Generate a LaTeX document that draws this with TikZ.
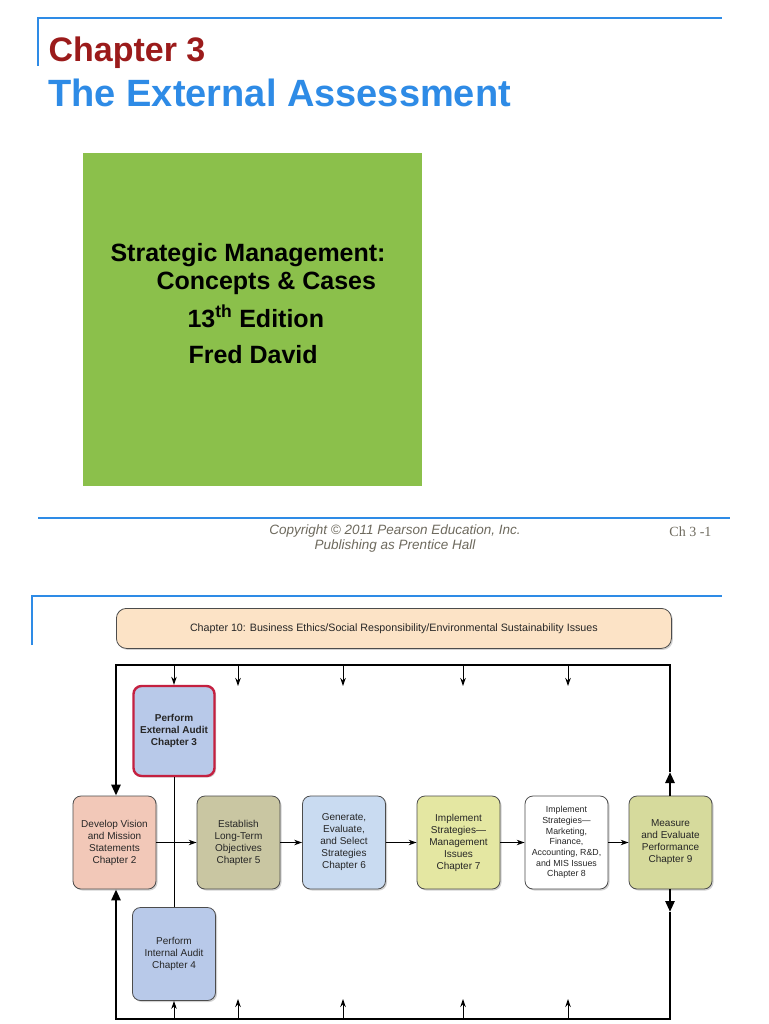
\documentclass[tikz,border=0pt]{standalone}
\usepackage{fontspec}
\setmainfont{Liberation Sans}
\usetikzlibrary{arrows.meta,shadows}
\definecolor{slideblue}{HTML}{2E8BE6}
\definecolor{chred}{HTML}{9B1B1B}
\definecolor{green1}{HTML}{8BC04B}
\definecolor{peach}{HTML}{FCE3C6}
\definecolor{bluebox}{HTML}{B8C9E9}
\definecolor{redborder}{HTML}{C42040}
\definecolor{pinkbox}{HTML}{F2C8B8}
\definecolor{olivebox}{HTML}{C9C6A2}
\definecolor{ltblue}{HTML}{C9DBF1}
\definecolor{yelbox}{HTML}{E4E7A2}
\definecolor{greenbox}{HTML}{D6DA9C}
\definecolor{graytxt}{HTML}{6E6A5E}
\tikzset{
  box/.style={draw=black!70, line width=0.8pt, rounded corners=8pt, minimum width=83pt, minimum height=93pt, align=center, inner sep=1pt, font=\fontsize{10}{12}\selectfont, text=black!85, drop shadow={shadow xshift=1.5pt,shadow yshift=-1.5pt,opacity=0.35}},
  frame/.style={line width=2.6pt, black},
  big/.style={-{Triangle[length=11pt,width=9pt]}, line width=2.6pt},
  small/.style={-{Stealth[length=8pt,width=5.5pt]}, line width=1pt},
  hline/.style={slideblue, line width=1.5pt}
}
\begin{document}
\begin{tikzpicture}[x=1pt,y=-1pt]
\useasboundingbox[fill=white] (0,0) rectangle (768,1024);
% slide 1
\draw[hline] (38,66) -- (38,18) -- (722,18);
\node[anchor=base west, text=chred, font=\bfseries\fontsize{34}{34}\selectfont] (c3) at (45,62) {Chapter 3};
\node[anchor=base west, text=slideblue, font=\bfseries\fontsize{38}{38}\selectfont] (tea) at (45,107) {The External Assessment};
\node[fill=green1, minimum width=339pt, minimum height=333pt, anchor=north west, inner sep=0pt] (gb) at (83,153) {};
\node[anchor=base west, font=\bfseries\fontsize{25}{25}\selectfont] (t1) at (107,261) {Strategic Management:};
\node[anchor=base west, font=\bfseries\fontsize{25}{25}\selectfont] (t2) at (153,289) {Concepts \& Cases};
\node[anchor=base west, font=\bfseries\fontsize{25}{25}\selectfont] (t3) at (184,327) {13\textsuperscript{th} Edition};
\node[anchor=base west, font=\bfseries\fontsize{25}{25}\selectfont] (t4) at (185,363) {Fred David};
\draw[hline] (38,518) -- (730,518);
\node[align=center, text=graytxt, font=\itshape\fontsize{13.5}{15}\selectfont] (copy) at (395,539) {Copyright © 2011 Pearson Education, Inc.\\Publishing as Prentice Hall};
\node[anchor=base east, text=graytxt, font=\fontsize{14}{14}\selectfont\fontspec{Liberation Serif}] (ch) at (715,536) {Ch 3 -1};
% slide 2
\draw[hline] (32,645) -- (32,596) -- (722,596);
\node[box, fill=peach, minimum width=555pt, minimum height=40pt, rounded corners=10pt, anchor=north west, font=\fontsize{10.7}{12}\selectfont, text=black!85] (eth) at (116,608) {Chapter 10: Business Ethics/Social Responsibility/Environmental Sustainability Issues};
\node[box, fill=bluebox, draw=redborder, line width=2.4pt, minimum width=81pt, minimum height=90pt, font=\bfseries\fontsize{10}{12}\selectfont, text=black!85] (ext) at (174,731) {Perform\\External Audit\\Chapter 3};
\node[box, fill=bluebox] (int) at (174,954) {Perform\\Internal Audit\\Chapter 4};
\node[box, fill=pinkbox] (dev) at (114.5,842.5) {Develop Vision\\and Mission\\Statements\\Chapter 2};
\node[box, fill=olivebox] (est) at (238.5,842.5) {Establish\\Long-Term\\Objectives\\Chapter 5};
\node[box, fill=ltblue] (gen) at (344,842.5) {Generate,\\Evaluate,\\and Select\\Strategies\\Chapter 6};
\node[box, fill=yelbox] (imp) at (458.5,842.5) {Implement\\Strategies---\\Management\\Issues\\Chapter 7};
\node[box, fill=white, font=\fontsize{8.8}{10.7}\selectfont] (mkt) at (566.5,842.5) {Implement\\Strategies---\\Marketing,\\Finance,\\Accounting, R\&D,\\and MIS Issues\\Chapter 8};
\node[box, fill=greenbox] (mea) at (670.5,842.5) {Measure\\and Evaluate\\Performance\\Chapter 9};
% frame
\coordinate (tl) at (116,665); \coordinate (tr) at (670,665);
\coordinate (bl) at (116,1019); \coordinate (br) at (670,1019);
\coordinate (rt) at (670,772); \coordinate (rb) at (670,912);
\draw[frame, line cap=rect] (tl) -- (tr);
\draw[frame, line cap=rect] (bl) -- (br);
\draw[frame] (tr) -- (rt);
\draw[frame] (br) -- (rb);
\draw[big] (tl) -- (dev.north -| tl);
\draw[big] (bl) -- (dev.south -| bl);
\draw[big] (mea.north -| tr) -- (rt);
\draw[big] (mea.south -| br) -- (rb);
% small arrows
\draw[small] (174,665) -- (ext.north);
\draw[small] (174,1019) -- (int.south);
\foreach \x/\n in {238/a,343/b,463/c,568/d}{
  \coordinate (u\n) at (\x,665); \coordinate (ue\n) at (\x,686);
  \coordinate (d\n) at (\x,1019); \coordinate (de\n) at (\x,999);
  \draw[small] (u\n) -- (ue\n);
  \draw[small] (d\n) -- (de\n);
}
\draw[line width=1pt] (ext.south) -- (int.north);
\draw[small] (dev) -- (est);
\draw[small] (est) -- (gen);
\draw[small] (gen) -- (imp);
\draw[small] (imp) -- (mkt);
\draw[small] (mkt) -- (mea);
\end{tikzpicture}
\end{document}
